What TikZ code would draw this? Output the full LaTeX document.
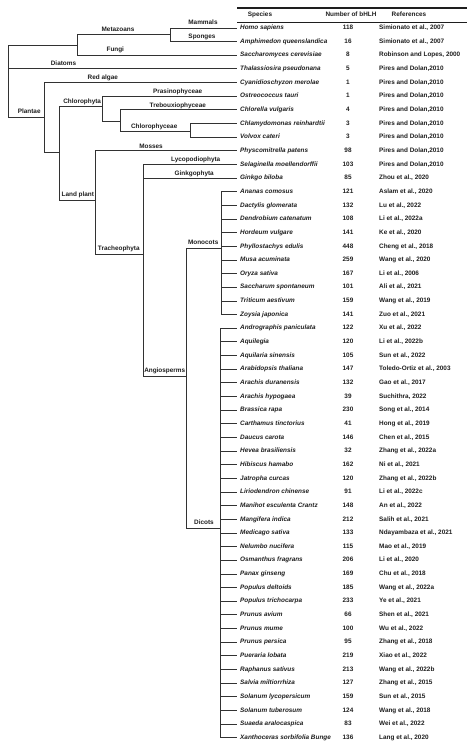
\documentclass[tikz,border=0pt]{standalone}
\usepackage{fontspec}
\setmainfont{Liberation Sans}
\usetikzlibrary{positioning}
\definecolor{ink}{RGB}{30,30,30}
\definecolor{branch}{RGB}{50,50,50}

\begin{document}
\begin{tikzpicture}[x=1pt, y=-1pt,
    font=\fontsize{6.4}{7.5}\selectfont\bfseries,
    clade/.style={branch, line width=0.95pt},
    taxon/.style={inner sep=0pt, text=ink, text height=4.6pt, text depth=1.35pt}]
    \useasboundingbox (0,0) rectangle (474,748);
    % table header
    \draw[ink, line width=1.8pt] (237,8) -- (467,8);
    \draw[ink, line width=0.9pt] (237,22) -- (467,22);
    \node[taxon] (hspecies) at (260,15) {Species};
    \node[taxon] (hcount) at (351,15) {Number of bHLH};
    \node[taxon] (hrefs) at (409,15) {References};
    % species, counts and references
    \foreach \n/\sp/\nb/\rf in {
      {1/Homo sapiens/118/Simionato et al., 2007},
      {2/Amphimedon queenslandica/16/Simionato et al., 2007},
      {3/Saccharomyces cerevisiae/8/Robinson and Lopes, 2000},
      {4/Thalassiosira pseudonana/5/Pires and Dolan,2010},
      {5/Cyanidioschyzon merolae/1/Pires and Dolan,2010},
      {6/Ostreococcus tauri/1/Pires and Dolan,2010},
      {7/Chlorella vulgaris/4/Pires and Dolan,2010},
      {8/Chlamydomonas reinhardtii/3/Pires and Dolan,2010},
      {9/Volvox cateri/3/Pires and Dolan,2010},
      {10/Physcomitrella patens/98/Pires and Dolan,2010},
      {11/Selaginella moellendorffii/103/Pires and Dolan,2010},
      {12/Ginkgo biloba/85/Zhou et al., 2020},
      {13/Ananas comosus/121/Aslam et al., 2020},
      {14/Dactylis glomerata/132/Lu et al., 2022},
      {15/Dendrobium catenatum/108/Li et al., 2022a},
      {16/Hordeum vulgare/141/Ke et al., 2020},
      {17/Phyllostachys edulis/448/Cheng et al., 2018},
      {18/Musa acuminata/259/Wang et al., 2020},
      {19/Oryza sativa/167/Li et al., 2006},
      {20/Saccharum spontaneum/101/Ali et al., 2021},
      {21/Triticum aestivum/159/Wang et al., 2019},
      {22/Zoysia japonica/141/Zuo et al., 2021},
      {23/Andrographis paniculata/122/Xu et al., 2022},
      {24/Aquilegia/120/Li et al., 2022b},
      {25/Aquilaria sinensis/105/Sun et al., 2022},
      {26/Arabidopsis thaliana/147/Toledo-Ortiz et al., 2003},
      {27/Arachis duranensis/132/Gao et al., 2017},
      {28/Arachis hypogaea/39/Suchithra, 2022},
      {29/Brassica rapa/230/Song et al., 2014},
      {30/Carthamus tinctorius/41/Hong et al., 2019},
      {31/Daucus carota/146/Chen et al., 2015},
      {32/Hevea brasiliensis/32/Zhang et al., 2022a},
      {33/Hibiscus hamabo/162/Ni et al., 2021},
      {34/Jatropha curcas/120/Zhang et al., 2022b},
      {35/Liriodendron chinense/91/Li et al., 2022c},
      {36/Manihot esculenta Crantz/148/An et al., 2022},
      {37/Mangifera indica/212/Salih et al., 2021},
      {38/Medicago sativa/133/Ndayambaza et al., 2021},
      {39/Nelumbo nucifera/115/Mao et al., 2019},
      {40/Osmanthus fragrans/206/Li et al., 2020},
      {41/Panax ginseng/169/Chu et al., 2018},
      {42/Populus deltoids/185/Wang et al., 2022a},
      {43/Populus trichocarpa/233/Ye et al., 2021},
      {44/Prunus avium/66/Shen et al., 2021},
      {45/Prunus mume/100/Wu et al., 2022},
      {46/Prunus persica/95/Zhang et al., 2018},
      {47/Pueraria lobata/219/Xiao et al., 2022},
      {48/Raphanus sativus/213/Wang et al., 2022b},
      {49/Salvia miltiorrhiza/127/Zhang et al., 2015},
      {50/Solanum lycopersicum/159/Sun et al., 2015},
      {51/Solanum tuberosum/124/Wang et al., 2018},
      {52/Suaeda aralocaspica/83/Wei et al., 2022},
      {53/Xanthoceras sorbifolia Bunge/136/Lang et al., 2020}}{
      \pgfmathsetmacro{\yy}{28+(\n-1)*13.65}
      \node[taxon, anchor=west, inner xsep=3pt] (s\n) at (237,\yy) {\itshape\sp};
      \node[taxon] (n\n) at (348,\yy) {\nb};
      \node[taxon, anchor=west] (r\n) at (379,\yy) {\rf};
    }
    % inner nodes of the tree
    \coordinate (root) at (8.5,68.3);
    \coordinate (opis) at (77.7,45);
    \coordinate (meta) at (170,34.3);
    \coordinate (plantae) at (44.3,117);
    \coordinate (green) at (59.3,152.7);
    \coordinate (chloro) at (102.7,106.7);
    \coordinate (trecl) at (120,121.7);
    \coordinate (chlphy) at (190,131.2);
    \coordinate (land) at (95.7,200);
    \coordinate (trach) at (143.3,254);
    \coordinate (angio) at (186,376);
    \coordinate (mono) at (221.7,248.3);
    \coordinate (dicot) at (220.7,528.3);
    % branches
    \draw[clade] (root) |- (opis);
    \draw[clade] (root) |- (s4.west);
    \draw[clade] (root) |- (plantae);
    \draw[clade] (opis) |- (meta);
    \draw[clade] (opis) |- (s3.west);
    \draw[clade] (meta) |- (s1.west);
    \draw[clade] (meta) |- (s2.west);
    \draw[clade] (plantae) |- (s5.west);
    \draw[clade] (plantae) |- (green);
    \draw[clade] (green) |- (chloro);
    \draw[clade] (green) |- (land);
    \draw[clade] (chloro) |- (s6.west);
    \draw[clade] (chloro) |- (trecl);
    \draw[clade] (trecl) |- (s7.west);
    \draw[clade] (trecl) |- (chlphy);
    \draw[clade] (chlphy) |- (s8.west);
    \draw[clade] (chlphy) |- (s9.west);
    \draw[clade] (land) |- (s10.west);
    \draw[clade] (land) |- (trach);
    \draw[clade] (trach) |- (s11.west);
    \draw[clade] (trach) |- (s12.west);
    \draw[clade] (trach) |- (angio);
    \draw[clade] (angio) |- (mono);
    \draw[clade] (angio) |- (dicot);
    \foreach \i in {13,...,22}
      \draw[clade] (mono) |- (s\i.west);
    \foreach \i in {23,...,53}
      \draw[clade] (dicot) |- (s\i.west);
    % clade labels
    \node[taxon] (lmammals) at (203,23) {Mammals};
    \node[taxon] (lsponges) at (202,36.5) {Sponges};
    \node[taxon] (lmeta) at (118,30.2) {Metazoans};
    \node[taxon] (lfungi) at (115.3,50.3) {Fungi};
    \node[taxon] (ldiatoms) at (63.5,64) {Diatoms};
    \node[taxon] (lred) at (102.8,78) {Red algae};
    \node[taxon] (lplantae) at (29.2,111.7) {Plantae};
    \node[taxon] (lprasino) at (177.7,92) {Prasinophyceae};
    \node[taxon] (lchloro) at (82.2,102) {Chlorophyta};
    \node[taxon] (ltrebou) at (177.8,105.5) {Trebouxiophyceae};
    \node[taxon] (lchlphy) at (154.2,126.7) {Chlorophyceae};
    \node[taxon] (lmosses) at (151,146.5) {Mosses};
    \node[taxon] (lland) at (77.8,195.3) {Land plant};
    \node[taxon] (llyco) at (195.7,160.2) {Lycopodiophyta};
    \node[taxon] (lginkgo) at (194.2,173.8) {Ginkgophyta};
    \node[taxon] (ltrach) at (118.8,249.3) {Tracheophyta};
    \node[taxon] (lmono) at (203.2,242.8) {Monocots};
    \node[taxon] (langio) at (164.7,370.5) {Angiosperms};
    \node[taxon] (ldicot) at (204,523) {Dicots};
\end{tikzpicture}
\end{document}
